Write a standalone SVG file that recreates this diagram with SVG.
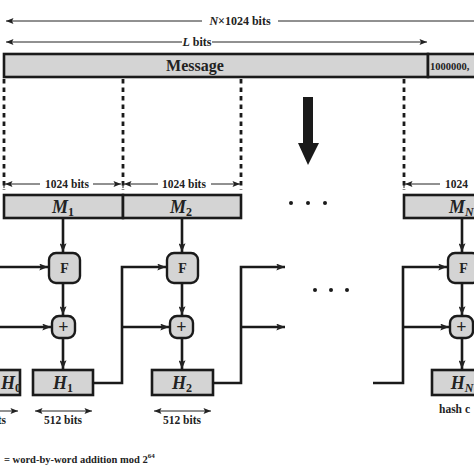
<svg xmlns="http://www.w3.org/2000/svg" width="474" height="474" viewBox="0 0 474 474">
<defs>
<marker id="ah" viewBox="0 0 10 8" refX="10" refY="4" markerWidth="9" markerHeight="7" markerUnits="userSpaceOnUse" orient="auto"><path d="M0,0 L10,4 L0,8 L2,4 Z" fill="#222"/></marker>
<marker id="ahs" viewBox="0 0 10 8" refX="10" refY="4" markerWidth="8" markerHeight="6" markerUnits="userSpaceOnUse" orient="auto-start-reverse"><path d="M0,0 L10,4 L0,8 L2,4 Z" fill="#222"/></marker>
</defs>
<style>
text{font-family:"Liberation Serif","Times New Roman",serif;font-weight:bold;fill:#222}
.box{fill:#d4d4d4;stroke:#1a1a1a;stroke-width:2.6}
.rnd{fill:#d4d4d4;stroke:#1a1a1a;stroke-width:2.4}
.con{fill:none;stroke:#1a1a1a;stroke-width:2.6}
.thin{fill:none;stroke:#222;stroke-width:1}
.dash{fill:none;stroke:#1a1a1a;stroke-width:2.8;stroke-dasharray:4.5 4}
.lbl{font-size:11.5px}
.big{font-size:18px;font-style:italic}
.sub{font-size:12px;font-style:normal}
.subi{font-size:12px;font-style:italic}
</style>
<rect width="474" height="474" fill="#fff"/>

<g id="dimensions">
<line class="thin" x1="6" y1="21" x2="202" y2="21" marker-start="url(#ahs)"/>
<line class="thin" x1="278" y1="21" x2="474" y2="21"/>
<text x="240" y="25" font-size="12" text-anchor="middle"><tspan font-style="italic">N</tspan>×1024 bits</text>
<line class="thin" x1="6" y1="42" x2="182" y2="42" marker-start="url(#ahs)"/>
<line class="thin" x1="212" y1="42" x2="427" y2="42" marker-end="url(#ahs)"/>
<text x="197" y="46" font-size="12" text-anchor="middle"><tspan font-style="italic">L</tspan> bits</text>
</g>

<g id="message">
<rect class="box" x="4" y="54" width="424" height="23"/>
<text x="195" y="71" font-size="16" text-anchor="middle">Message</text>
</g>
<g id="padding">
<rect class="box" x="428" y="54" width="60" height="23" fill="#dedede"/>
<text x="430" y="70" font-size="10.5">1000000,</text>
</g>

<g id="splits">
<line class="dash" x1="4" y1="79" x2="4" y2="190"/>
<line class="dash" x1="123" y1="79" x2="123" y2="190"/>
<line class="dash" x1="241" y1="79" x2="241" y2="190"/>
<line class="dash" x1="404" y1="79" x2="404" y2="190"/>
<polygon points="303,97 313,97 313,143 319,143 308,165 298,143 303,143" fill="#1a1a1a"/>
<g fill="#1a1a1a"><circle cx="291" cy="203" r="2"/><circle cx="308" cy="203" r="2"/><circle cx="325" cy="203" r="2"/>
<circle cx="315" cy="290" r="2"/><circle cx="331" cy="290" r="2"/><circle cx="347" cy="290" r="2"/></g>
</g>

<g id="widths">
<line class="thin" x1="4" y1="181" x2="4" y2="188"/>
<line class="thin" x1="5" y1="184" x2="40" y2="184" marker-start="url(#ahs)"/>
<line class="thin" x1="93" y1="184" x2="121" y2="184" marker-end="url(#ahs)"/>
<text x="67" y="188" class="lbl" text-anchor="middle">1024  bits</text>
<line class="thin" x1="123" y1="181" x2="123" y2="188"/>
<line class="thin" x1="124" y1="184" x2="158" y2="184" marker-start="url(#ahs)"/>
<line class="thin" x1="211" y1="184" x2="240" y2="184" marker-end="url(#ahs)"/>
<text x="184" y="188" class="lbl" text-anchor="middle">1024  bits</text>
<line class="thin" x1="404" y1="181" x2="404" y2="188"/>
<line class="thin" x1="405" y1="184" x2="440" y2="184" marker-start="url(#ahs)"/>
<text x="445" y="188" class="lbl">1024</text>
<line class="thin" x1="35" y1="411" x2="92" y2="411" marker-start="url(#ahs)" marker-end="url(#ahs)"/>
<text x="63" y="424" class="lbl" text-anchor="middle">512  bits</text>
<line class="thin" x1="154" y1="411" x2="211" y2="411" marker-start="url(#ahs)" marker-end="url(#ahs)"/>
<text x="182" y="424" class="lbl" text-anchor="middle">512  bits</text>
<line class="thin" x1="-40" y1="411" x2="18" y2="411" marker-start="url(#ahs)" marker-end="url(#ahs)"/>
<text x="-13" y="424" class="lbl" text-anchor="middle">512  bits</text>
<text x="439" y="413" font-size="11.5">hash c</text>
</g>

<g id="M1"><rect class="box" x="4" y="195" width="119" height="23"/><text x="63" y="213" class="big" text-anchor="middle">M<tspan class="sub" dy="3">1</tspan></text></g>
<g id="M2"><rect class="box" x="123" y="195" width="118" height="23"/><text x="181" y="213" class="big" text-anchor="middle">M<tspan class="sub" dy="3">2</tspan></text></g>
<g id="MN"><rect class="box" x="404" y="195" width="90" height="23"/><text x="449" y="213" class="big">M<tspan class="subi" dy="3">N</tspan></text></g>

<g id="F1"><rect class="rnd" x="49" y="253" width="31" height="30" rx="7"/><text x="64.5" y="273" font-size="14" text-anchor="middle">F</text></g>
<g id="F2"><rect class="rnd" x="167" y="253" width="31" height="30" rx="7"/><text x="182.5" y="273" font-size="14" text-anchor="middle">F</text></g>
<g id="FN"><rect class="rnd" x="448" y="253" width="31" height="30" rx="7"/><text x="463.5" y="273" font-size="14" text-anchor="middle">F</text></g>

<g id="P1"><rect class="rnd" x="52" y="316" width="23" height="22" rx="7"/><text x="63.5" y="333" font-size="18" text-anchor="middle">+</text></g>
<g id="P2"><rect class="rnd" x="170" y="316" width="23" height="22" rx="7"/><text x="181.5" y="333" font-size="18" text-anchor="middle">+</text></g>
<g id="PN"><rect class="rnd" x="450" y="316" width="23" height="22" rx="7"/><text x="461.5" y="333" font-size="18" text-anchor="middle">+</text></g>

<g id="H0"><rect class="box" x="-40" y="370" width="60" height="25"/><text x="1" y="389" class="big">H<tspan class="sub" dy="3">0</tspan></text></g>
<g id="H1"><rect class="box" x="33" y="370" width="60" height="25"/><text x="63" y="389" class="big" text-anchor="middle">H<tspan class="sub" dy="3">1</tspan></text></g>
<g id="H2"><rect class="box" x="152" y="370" width="61" height="25"/><text x="182" y="389" class="big" text-anchor="middle">H<tspan class="sub" dy="3">2</tspan></text></g>
<g id="HN"><rect class="box" x="432" y="370" width="62" height="25"/><text x="462" y="389" class="big" text-anchor="middle">H<tspan class="subi" dy="3">N</tspan></text></g>

<g id="connectors">
<line class="con" x1="63" y1="219" x2="63" y2="252" marker-end="url(#ah)"/>
<line class="con" x1="63" y1="284" x2="63" y2="315" marker-end="url(#ah)"/>
<line class="con" x1="63" y1="339" x2="63" y2="369" marker-end="url(#ah)"/>
<line class="con" x1="0" y1="267" x2="48" y2="267" marker-end="url(#ah)"/>
<line class="con" x1="0" y1="327" x2="51" y2="327" marker-end="url(#ah)"/>
<path class="con" d="M94,383 H122 V267 H166" marker-end="url(#ah)"/>
<line class="con" x1="122" y1="327" x2="169" y2="327" marker-end="url(#ah)"/>
<line class="con" x1="182" y1="219" x2="182" y2="252" marker-end="url(#ah)"/>
<line class="con" x1="182" y1="284" x2="182" y2="315" marker-end="url(#ah)"/>
<line class="con" x1="182" y1="339" x2="182" y2="369" marker-end="url(#ah)"/>
<path class="con" d="M214,383 H241 V267 H285" marker-end="url(#ah)"/>
<line class="con" x1="241" y1="327" x2="285" y2="327" marker-end="url(#ah)"/>
<path class="con" d="M373,383 H403 V267 H447" marker-end="url(#ah)"/>
<line class="con" x1="403" y1="327" x2="449" y2="327" marker-end="url(#ah)"/>
<line class="con" x1="462" y1="219" x2="462" y2="252" marker-end="url(#ah)"/>
<line class="con" x1="462" y1="284" x2="462" y2="315" marker-end="url(#ah)"/>
<line class="con" x1="462" y1="339" x2="462" y2="369" marker-end="url(#ah)"/>
</g>

<g id="legend">
<text x="4" y="463" font-size="10.5">= word-by-word addition mod 2<tspan font-size="7" dy="-5">64</tspan></text>
</g>
</svg>
